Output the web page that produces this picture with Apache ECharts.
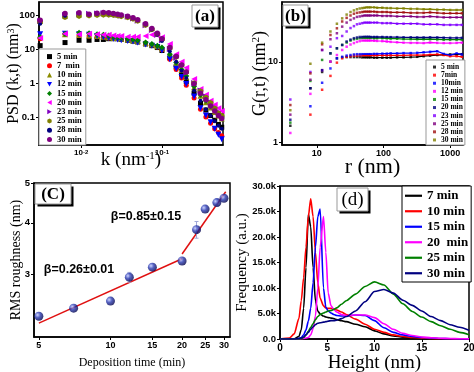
<!DOCTYPE html>
<html><head><meta charset="utf-8">
<script src="https://cdn.jsdelivr.net/npm/echarts@6/dist/echarts.min.js"></script>
<style>html,body{margin:0;padding:0;background:#fff}#c{width:474px;height:372px}</style>
</head><body><div id="c"></div>
<script>
// ---------- Panel (a): PSD(k,t) ----------
const kVals = [0.0031,0.0063,0.0094,0.0125,0.0157,0.0188,0.0219,0.025,0.0282,0.0313,0.0376,0.0438,0.05,0.0626,0.075,0.0876,0.1,0.125,0.15,0.175,0.2,0.25,0.3,0.35,0.4,0.45,0.5,0.55];
const psd5  = [12.5,15.4,18,18,19,19,20,20,20,19,18,17,16,14,12.5,11,9,5.5,3,1.8,1.1,0.5,0.25,0.16,0.11,0.08,0.06,0.05];
const psd7  = [20,27,25,24,23,22,21,21,20,20,19,18,17,15,13,11.5,9.5,5,2.5,1.4,0.85,0.36,0.17,0.1,0.065,0.045,0.035,0.028];
const psd10 = [24,27,26,25,24,23,22,21,21,20,19,18,17,15,13.5,12,10.5,6.5,3.8,2.4,1.5,0.75,0.42,0.27,0.19,0.14,0.11,0.09];
const psd12 = [27,28,27,26,24,22,21,20,19,18,17,16.5,15.5,13.5,12.5,11.5,9,5,2.6,1.5,0.93,0.4,0.18,0.11,0.07,0.045,0.03,0.022];
const psd15 = [22,28,30,29,27,26,25,23,22,21,20,19,18,15.5,14,12.5,11,7,4,2.5,1.6,0.8,0.45,0.3,0.21,0.16,0.12,0.1];
const psd20 = [21,28,27,28,27,26,26,25,24,24,23,23,23,24,26,25,22,14,7,4.2,2.8,1.3,0.66,0.45,0.3,0.23,0.18,0.15];
const psd23 = [66,100,105,108,110,112,110,105,100,95,88,78,68,50,36,26,18,10,5.5,3.2,2.0,1.0,0.6,0.4,0.27,0.19,0.14,0.11];
const psd25 = [60,85,92,95,98,100,100,98,95,90,84,76,66,50,37,27,19,10.5,5.8,3.3,2.1,1.0,0.58,0.38,0.26,0.18,0.13,0.11];
const psd28 = [55,95,110,105,108,115,110,108,104,98,90,80,70,52,37,26,17,8.5,4.2,2.3,1.4,0.6,0.3,0.17,0.11,0.075,0.055,0.045];
const psd30 = [70,110,115,105,112,118,115,110,105,100,92,82,72,55,40,29,20,11,6,3.4,2.1,0.95,0.5,0.32,0.21,0.15,0.11,0.09];
const aNames = ['5 min','7  min','10 min','12 min','15 min','20 min','23 min','25 min','28 min','30 min'];
const aTicksX = [0.01, 0.1];
const aTicksY = [0.1, 1, 10, 100];

// ---------- Panel (b): G(r,t) ----------
const rVals = [4,8,12,16,20,24,28,32,36,40,44,48,52,56,60,64,72,80,96,112,128,160,200,256,320,400,500,640,800,1000,1250,1500];
const g5  = [1.6,4.7,7.5,10.1,11.1,11.4,11.5,11.5,11.5,11.5,11.5,11.4,11.4,11.4,11.4,11.4,11.3,11.3,11.3,11.3,11.3,11.4,11.4,11.5,11.6,11.8,12.0,12.2,12.3,12.4,12.4,12.5];
const g7  = [null,2.2,4.5,6.7,9.8,11.1,11.6,11.8,12,12,12.1,12.1,12.1,12.1,12.1,12.1,12.1,12.1,12.1,12.1,12.1,12.1,12.1,12.2,12.2,12.2,12.3,12.4,12.2,11.8,11.8,11.6];
const g10 = [null,2.8,5.5,8.3,11.1,11.6,12,12.2,12.4,12.5,12.5,12.5,12.5,12.5,12.5,12.5,12.6,12.6,12.7,12.7,12.8,12.8,12.9,12.9,13.0,13.2,13.4,13.6,12.6,12.2,12.8,12.4];
const g12 = [1.3,4.0,7.9,10.1,12.2,14.1,15.5,16.5,17.2,17.8,18.2,18.5,18.5,18.5,18.5,18.5,18.4,18.3,18.2,18.0,17.8,17.6,17.4,17.3,17.3,17.2,17.5,17.3,17.2,17.2,17.3,17.4];
const g15 = [1.75,5.8,10.6,12.8,14.8,16.3,17.5,18.5,19.2,19.5,19.8,20,20,20,20,20,19.8,19.8,19.8,19.7,19.6,19.5,19.3,19.3,19.2,19.2,19.2,19.1,19,19,19,19];
const g20 = [1.9,4.7,7.9,12.8,14.8,16.3,18,19,19.8,20.2,20.5,20.5,20.6,20.6,20.6,20.5,20.5,20.5,20.5,20.4,20.4,20.4,20.3,20.3,20.2,20.2,20.3,20.2,20.1,20,20,20];
const g23 = [3.4,7.5,14.1,15.5,19.8,21.1,24,26.5,28,29.5,30,30.5,31,31,31,31,31,31,30.5,30.5,30.5,30,30,30,30,29.5,29.5,29.5,29,29,29,29];
const g25 = [2.2,6.0,14.1,19.2,22.8,27.6,31,33.5,35,36.5,37,37.5,38,38,38,38,38,38,37.5,37.5,37.5,37,37,37,36.5,36.5,37,36.5,36,36,36,36];
const g28 = [2.9,7.2,16.6,21.7,26.3,32,35.5,38,40,41,41.5,42,42.5,42.5,42.5,42.5,42.5,42,42,42,41.5,41.5,41.5,41,41,41,41.5,41,40.5,40.5,40.5,40.5];
const g30 = [2.5,9.5,17.4,24,30,35,39,42,44,45.5,46.5,47,47.5,48,48,48,48,47.5,47.5,47,47,46.5,46.5,46,46,45.5,45.5,45,45,44.5,44.5,44.5];
const bNames = ['5 min','7min','10min','12 min','15 min','20 min','23 min','25 min','28 min','30 min'];
const bTicksX = [10, 100, 1000];
const bTicksY = [1, 10];

// ---------- Panel (c): RMS roughness ----------
const times = [5,7,10,12,15,20,23,25,28,30];
const rms   = [2.37,2.48,2.58,2.95,3.12,3.23,3.85,4.32,4.48,4.59];
const errT  = [12,23,28];
const errV  = [2.95,3.85,4.48];
const errH  = [0.08,0.18,0.08];
const fit1T = [5,20];   const fit1R = [2.28,3.27];
const fit2T = [20,30.5]; const fit2R = [3.36,4.76];
const cTicksX = [5,10,15,20,25,30];
const cTicksY = [3,4,5];

// ---------- Panel (d): height distribution (k counts) ----------
const heights = [0,1,1.5,2,2.25,2.5,2.75,3,3.25,3.5,3.75,4,4.25,4.6,4.85,5.1,5.4,5.7,6,6.5,7,8,9,10,11,12,13,14,15,16,17,18,19,20];
const f7  = [0,0,0,0.5,1.8,6,14,24.5,22,14,7.5,5.5,4.9,4.5,4.3,4.2,4.1,4.0,3.8,3.6,3.4,2.9,2.4,1.6,1.0,0.6,0.35,0.2,0.1,0.05,0,0,0,0];
const f10 = [0,0.2,1.0,4,7.5,12,18,24,27.5,24,17,11,8,6.5,6.1,6.0,6.0,5.9,5.7,5.3,4.8,3.9,2.9,1.9,1.3,0.8,0.5,0.3,0.18,0.1,0.05,0.02,0,0];
const f15 = [0,0,0,0.1,0.3,0.8,1.8,3.5,6,11,18,24,25.5,10,6.2,5.5,5.1,4.8,4.6,4.5,4.5,4.7,4.6,3.6,2.2,1.3,0.8,0.5,0.3,0.2,0.1,0.05,0.02,0];
const f20 = [0,0,0,0,0.05,0.1,0.2,0.3,0.8,2,4.5,10,18,24,17,9,6.5,5.8,5.3,4.8,4.6,4.7,4.7,4.2,3.0,1.9,1.1,0.7,0.4,0.25,0.15,0.1,0.05,0.03];
const f25 = [0,0,0,0,0.1,0.3,0.8,1.5,2.3,3.0,3.8,4.4,4.8,5.1,5.3,5.5,5.6,5.8,6.1,6.8,7.5,8.8,10.3,11.2,10.6,8.8,6.9,5.4,4.3,3.4,2.6,1.9,1.3,0.85];
const f30 = [0,0,0,0.1,0.2,0.4,0.8,1.3,1.9,2.4,2.8,3.1,3.2,3.3,3.4,3.5,3.6,3.6,3.7,4.0,4.4,5.5,7.3,9.3,9.7,9.0,7.6,6.6,5.5,4.4,3.6,2.8,2.3,1.7];
const dNames = ['7 min','10 min','15 min','20  min','25 min','30 min'];

// ---------- styles ----------
const SERIF = 'Liberation Serif', SANS = 'Liberation Sans';
const aColors = ['#000000','#ff0000','#8c8c00','#0000ff','#008000','#ff00ff','#8000c0','#808000','#000080','#800080'];
const aSymbols = ['rect','circle','triangle','path://M0,0L10,0L5,9Z','diamond','path://M9,0L9,10L0,5Z','path://M0,0L0,10L9,5Z','path://M5,0L9.33,2.5L9.33,7.5L5,10L0.67,7.5L0.67,2.5Z','circle','circle'];
const aSizes = [5,5,6,6,6,6,6,5.5,4,5.5];
const bColors = ['#000000','#ff0000','#0000ff','#ff00ff','#008000','#000080','#8000ff','#800080','#a01010','#808000'];
const dColors = ['#000000','#ff0000','#0000ff','#ff00ff','#008000','#000080'];

const aData = [psd5,psd7,psd10,psd12,psd15,psd20,psd23,psd25,psd28,psd30];
const bData = [g5,g7,g10,g12,g15,g20,g23,g25,g28,g30];
const dData = [f7,f10,f15,f20,f25,f30];

function pairs(xs, ys){ const out=[]; xs.forEach((x,i)=>{ if(ys[i]!==null && ys[i]!==undefined) out.push([x,ys[i]]); }); return out; }

const axLine = {show:true, lineStyle:{color:'#000', width:1.5}};
const lbl = (fs)=>({color:'#000', fontFamily:SANS, fontWeight:'bold', fontSize:fs});

const series = [];
aData.forEach((arr,i)=>{
  series.push({type:'scatter', name:'a|'+aNames[i], xAxisIndex:0, yAxisIndex:0, symbol:aSymbols[i], symbolSize:aSizes[i],
    itemStyle:{color:aColors[i], opacity:1}, data:pairs(kVals, arr), z:2+i*0.01});
});
bData.forEach((arr,i)=>{
  series.push({type:'scatter', name:'b|'+bNames[i], xAxisIndex:1, yAxisIndex:1, symbol:'rect', symbolSize:2.5,
    itemStyle:{color:bColors[i]}, data:pairs(rVals, arr)});
  const lr = rVals.filter(r=>r>=48), ly = arr.slice(rVals.length-lr.length);
  series.push({type:'line', name:'bl'+i, xAxisIndex:1, yAxisIndex:1, symbol:'none', lineStyle:{color:bColors[i], width:1.3},
    data:pairs(lr, ly)});
});
series.push({type:'line', name:'fit1', xAxisIndex:2, yAxisIndex:2, symbol:'none', lineStyle:{color:'#e01010', width:1.5}, data:pairs(fit1T, fit1R), z:3});
series.push({type:'line', name:'fit2', xAxisIndex:2, yAxisIndex:2, symbol:'none', lineStyle:{color:'#e01010', width:1.5}, data:pairs(fit2T, fit2R), z:3});
series.push({type:'custom', name:'err', xAxisIndex:2, yAxisIndex:2, z:4,
  data: errT.map((t,i)=>[t, errV[i]-errH[i], errV[i]+errH[i]]),
  renderItem:(params, api)=>{
    const p1 = api.coord([api.value(0), api.value(1)]), p2 = api.coord([api.value(0), api.value(2)]);
    const st = {stroke:'#a0a8d8', lineWidth:1};
    return {type:'group', children:[
      {type:'line', shape:{x1:p1[0],y1:p1[1],x2:p2[0],y2:p2[1]}, style:st},
      {type:'line', shape:{x1:p1[0]-2,y1:p1[1],x2:p1[0]+2,y2:p1[1]}, style:st},
      {type:'line', shape:{x1:p2[0]-2,y1:p2[1],x2:p2[0]+2,y2:p2[1]}, style:st}]};
  }});
series.push({type:'scatter', name:'rms', xAxisIndex:2, yAxisIndex:2, symbol:'circle', symbolSize:9, z:5,
  itemStyle:{color:new echarts.graphic.RadialGradient(0.35,0.35,0.7,[{offset:0,color:'#c0c8ff'},{offset:0.45,color:'#2838b0'},{offset:1,color:'#000048'}])},
  data:pairs(times, rms)});
dData.forEach((arr,i)=>{
  series.push({type:'line', name:'d|'+dNames[i], xAxisIndex:3, yAxisIndex:3, symbol:'none', smooth:0.25, smoothMonotone:'x',
    lineStyle:{color:dColors[i], width:1.6}, itemStyle:{color:dColors[i]}, data:pairs(heights, arr)});
});

const gridBase = {show:true, borderColor:'#000', borderWidth:1.5, backgroundColor:'transparent', containLabel:false, outerBoundsMode:'none'};

function boxLabel(x,y,w,h,txt,weight,fs){
  return [
    {type:'rect', z:100, shape:{x:x+2.5,y:y+2.5,width:w,height:h}, style:{fill:'#000'}},
    {type:'rect', z:101, shape:{x:x,y:y,width:w,height:h}, style:{fill:'#fff', stroke:'#999', lineWidth:1}},
    {type:'text', z:102, x:x+w/2, y:y+h/2+1, style:{text:txt, font:weight+' '+fs+'px "'+SERIF+'"', fill:'#000', align:'center', verticalAlign:'middle'}}
  ];
}

const option = {
  animation:false,
  backgroundColor:'#fff',
  grid:[
    Object.assign({left:39, top:2, width:184, height:143}, gridBase),
    Object.assign({left:282, top:2, width:181, height:143}, gridBase),
    Object.assign({left:34, top:183, width:196, height:154}, gridBase),
    Object.assign({left:280, top:186, width:189, height:153}, gridBase)
  ],
  xAxis:[
    {gridIndex:0, type:'log', min:0.003, max:0.57, axisLine:axLine, splitLine:{show:false},
     axisTick:{customValues:aTicksX, length:3, lineStyle:{color:'#000'}},
     axisLabel:Object.assign(lbl(8), {customValues:aTicksX, margin:4,
       formatter:v=>'10{s|'+Math.round(Math.log10(v))+'}', rich:{s:{fontSize:6, fontFamily:SANS, fontWeight:'bold', verticalAlign:'top', color:'#000'}}}),
     name:'k (nm{s|-1})', nameLocation:'middle', nameGap:6, nameMoveOverlap:false,
     nameTextStyle:{fontFamily:SERIF, fontSize:19, color:'#000', rich:{s:{fontFamily:SERIF, fontSize:11, verticalAlign:'top', color:'#000'}}}},
    {gridIndex:1, type:'log', min:3, max:1560, axisLine:axLine, splitLine:{show:false},
     axisTick:{customValues:bTicksX, length:3, lineStyle:{color:'#000'}},
     axisLabel:Object.assign(lbl(9), {customValues:bTicksX, margin:4, formatter:v=>String(Math.round(v))}),
     name:'r (nm)', nameLocation:'middle', nameGap:11, nameMoveOverlap:false,
     nameTextStyle:{fontFamily:SERIF, fontSize:22, color:'#000'}},
    {gridIndex:2, type:'log', min:4.77, max:31.8, axisLine:axLine, splitLine:{show:false},
     axisTick:{customValues:cTicksX, length:3, lineStyle:{color:'#000'}},
     axisLabel:Object.assign(lbl(9), {customValues:cTicksX, margin:4, formatter:v=>String(Math.round(v))}),
     name:'Deposition time (min)', nameLocation:'middle', nameGap:20, nameMoveOverlap:false,
     nameTextStyle:{fontFamily:SERIF, fontSize:12, color:'#000'}},
    {gridIndex:3, type:'value', min:0, max:20, interval:5, axisLine:axLine, splitLine:{show:false},
     axisTick:{length:3, lineStyle:{color:'#000'}},
     axisLabel:Object.assign(lbl(10), {margin:4}),
     name:'Height (nm)', nameLocation:'middle', nameGap:15, nameMoveOverlap:false,
     nameTextStyle:{fontFamily:SERIF, fontSize:19, color:'#000'}}
  ],
  yAxis:[
    {gridIndex:0, type:'log', min:0.015, max:240, axisLine:axLine, splitLine:{show:false},
     axisTick:{customValues:aTicksY, length:3, lineStyle:{color:'#000'}},
     axisLabel:Object.assign(lbl(9.5), {customValues:aTicksY, margin:4}),
     name:'PSD (k,t) (nm{s|3})', nameLocation:'middle', nameGap:17, nameMoveOverlap:false,
     nameTextStyle:{fontFamily:SERIF, fontSize:16, color:'#000', rich:{s:{fontFamily:SERIF, fontSize:10, verticalAlign:'top', color:'#000'}}}},
    {gridIndex:1, type:'log', min:0.92, max:56, axisLine:axLine, splitLine:{show:false},
     axisTick:{customValues:bTicksY, length:3, lineStyle:{color:'#000'}},
     axisLabel:Object.assign(lbl(9), {customValues:bTicksY, margin:4}),
     name:'G(r,t) (nm{s|2})', nameLocation:'middle', nameGap:13, nameMoveOverlap:false,
     nameTextStyle:{fontFamily:SERIF, fontSize:18, color:'#000', rich:{s:{fontFamily:SERIF, fontSize:11, verticalAlign:'top', color:'#000'}}}},
    {gridIndex:2, type:'log', min:2.11, max:5.0, axisLine:axLine, splitLine:{show:false},
     axisTick:{customValues:cTicksY, length:3, lineStyle:{color:'#000'}},
     axisLabel:Object.assign(lbl(9.5), {customValues:cTicksY, margin:4}),
     name:'RMS roughness (nm)', nameLocation:'middle', nameGap:11, nameMoveOverlap:false,
     nameTextStyle:{fontFamily:SERIF, fontSize:14, color:'#000'}},
    {gridIndex:3, type:'value', min:0, max:30, interval:5, axisLine:axLine, splitLine:{show:false},
     axisTick:{length:3, lineStyle:{color:'#000'}},
     axisLabel:Object.assign(lbl(9.5), {margin:4, formatter:v=>v===0?'0.0':v.toFixed(1)+'k'}),
     name:'Frequency (a.u.)', nameLocation:'middle', nameGap:30, nameMoveOverlap:false,
     nameTextStyle:{fontFamily:SERIF, fontSize:15, color:'#000'}}
  ],
  legend:[
    {data:aNames.map(n=>'a|'+n), formatter:n=>n.slice(2), orient:'vertical', left:39, top:49, selectedMode:false,
     itemWidth:5, itemHeight:5, itemGap:0, padding:[3,4,1,8], borderColor:'#999', borderWidth:1, backgroundColor:'#fff',
     textStyle:{fontFamily:SERIF, fontWeight:'bold', fontSize:8.5, lineHeight:9.2, color:'#000'}},
    {data:bNames.map(n=>'b|'+n), formatter:n=>n.slice(2), orient:'vertical', left:426, top:60, selectedMode:false,
     itemWidth:3, itemHeight:3, itemGap:0, padding:[3,2,1,7], borderColor:'#999', borderWidth:1, backgroundColor:'#fff',
     textStyle:{fontFamily:SERIF, fontWeight:'bold', fontSize:7.5, lineHeight:8.1, color:'#000'}},
    {data:dNames.map(n=>({name:'d|'+n, icon:'rect'})), formatter:n=>n.slice(2), orient:'vertical', left:402, top:186, selectedMode:false,
     itemWidth:17, itemHeight:2.2, itemGap:0, padding:[2,3,1,3], borderColor:'#000', borderWidth:1, backgroundColor:'#fff',
     textStyle:{fontFamily:SERIF, fontWeight:'bold', fontSize:13, lineHeight:15.5, color:'#000'}}
  ],
  graphic:[].concat(
    boxLabel(192,5,26,22,'(a)','bold',17),
    boxLabel(283,5,25,21,'(b)','bold',17),
    boxLabel(35,184,36,20,'(C)','bold',17),
    boxLabel(337,188,31,23,'(d)','normal',19),
    [
      {type:'text', z:110, x:79, y:270, style:{text:'β=0.26±0.01', font:'bold 12.5px "'+SANS+'"', fill:'#000', align:'center', verticalAlign:'middle'}},
      {type:'text', z:110, x:146, y:217, style:{text:'β=0.85±0.15', font:'bold 12.5px "'+SANS+'"', fill:'#000', align:'center', verticalAlign:'middle'}}
    ]
  ),
  series:series
};
const chart = echarts.init(document.getElementById('c'), null, {renderer:'canvas'});
chart.setOption(option);
</script></body></html>
